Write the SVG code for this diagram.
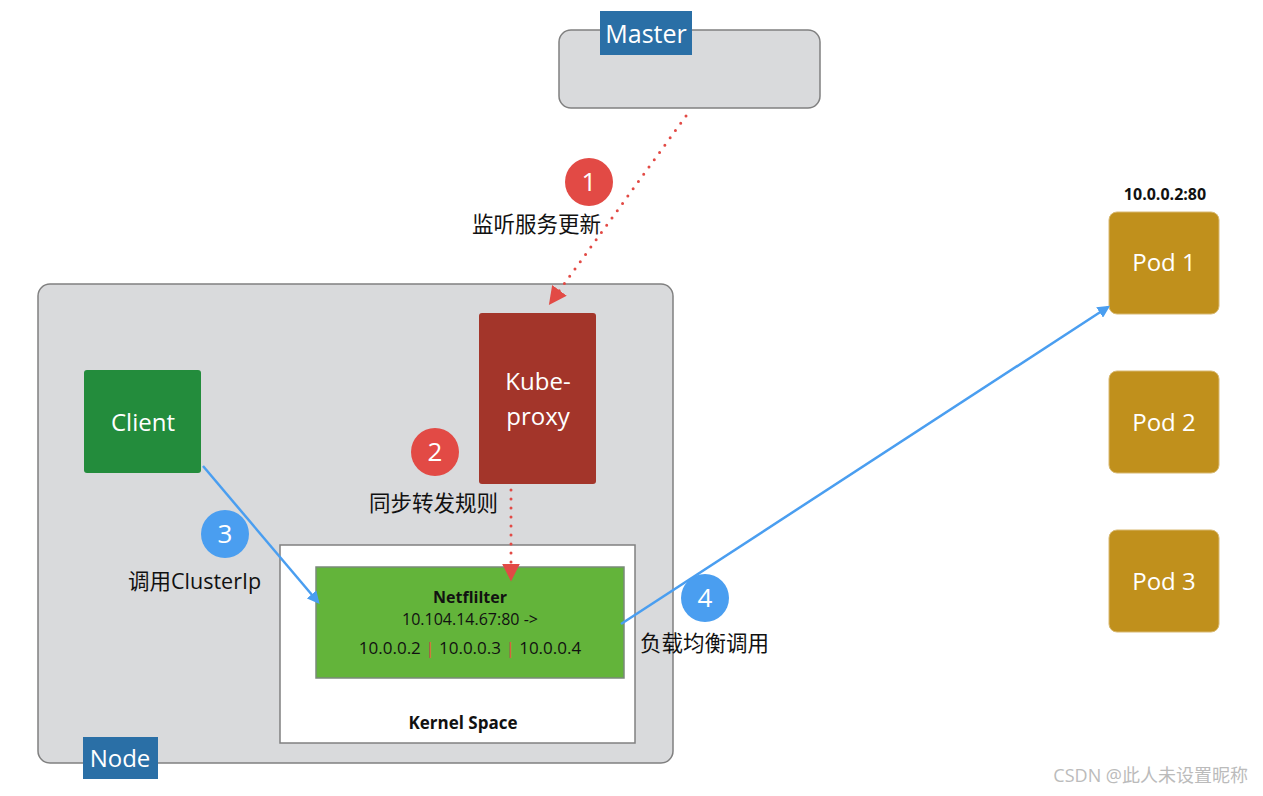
<svg xmlns="http://www.w3.org/2000/svg" width="1263" height="796" viewBox="0 0 1263 796">
<style>
text{font-family:"Open Sans","Noto Sans","Noto Sans CJK SC",sans-serif}
.lbl{font-size:21.5px;fill:#111}
.badge{font-size:26px;fill:#fff;text-anchor:middle}
.pod{fill:#c0901c;stroke:#d8b870;stroke-width:1}
.podt{font-size:24px;fill:#fff;text-anchor:middle}
.red{stroke:#e24a45;stroke-width:3;stroke-dasharray:0 9;stroke-linecap:round;fill:none}
.blue{stroke:#4a9ef0;stroke-width:2.5;fill:none}
</style>
<defs>
<marker id="ar" viewBox="0 0 10 10" refX="8" refY="5" markerWidth="6" markerHeight="6" orient="auto"><path d="M0,0L10,5L0,10z" fill="#e24a45"/></marker>
<marker id="ab" viewBox="0 0 10 10" refX="8" refY="5" markerWidth="5" markerHeight="5" orient="auto"><path d="M0,0L10,5L0,10z" fill="#4a9ef0"/></marker>
</defs>
<rect width="1263" height="796" fill="#fff"/>
<g id="master"><rect x="559" y="30" width="261" height="78" rx="12" fill="#d9dadc" stroke="#808080" stroke-width="1.5"/>
<rect x="600" y="11" width="92" height="44" fill="#2a6fa6"/><text x="646" y="43" font-size="25" fill="#fff" text-anchor="middle">Master</text></g>
<g id="node"><rect x="38" y="284" width="635" height="479" rx="12" fill="#d9dadc" stroke="#808080" stroke-width="1.5"/>
<rect x="83" y="737" width="75" height="42" fill="#2a6fa6"/><text x="120" y="767" font-size="24" fill="#fff" text-anchor="middle">Node</text></g>
<g id="kernel"><rect x="280" y="545" width="355" height="198" fill="#fff" stroke="#808080" stroke-width="1.5"/>
<text x="463" y="729" font-size="17" font-weight="bold" text-anchor="middle" fill="#111">Kernel Space</text></g>
<g id="netfilter"><rect x="316" y="567" width="308" height="111" fill="#63b43a" stroke="#7a8a7a" stroke-width="1.5"/>
<text x="470" y="603" font-size="16" font-weight="bold" text-anchor="middle" fill="#111">Netflilter</text>
<text x="470" y="625" font-size="16" text-anchor="middle" fill="#111">10.104.14.67:80 -&gt;</text>
<text x="470" y="654" font-size="17" text-anchor="middle" fill="#111">10.0.0.2 <tspan fill="#e24a45">|</tspan> 10.0.0.3 <tspan fill="#e24a45">|</tspan> 10.0.0.4</text></g>
<g id="client"><rect x="84" y="370" width="117" height="103" rx="3" fill="#238c3c"/><text x="143" y="431" font-size="24" fill="#fff" text-anchor="middle">Client</text></g>
<g id="kubeproxy"><rect x="479" y="313" width="117" height="171" rx="3" fill="#a3352a"/><text x="538" y="390" font-size="24" fill="#fff" text-anchor="middle">Kube-</text><text x="538" y="425" font-size="24" fill="#fff" text-anchor="middle">proxy</text></g>
<g id="pod1"><rect class="pod" x="1109" y="212" width="110" height="102" rx="8"/><text class="podt" x="1164" y="271">Pod 1</text></g>
<g id="pod2"><rect class="pod" x="1109" y="371" width="110" height="102" rx="8"/><text class="podt" x="1164" y="431">Pod 2</text></g>
<g id="pod3"><rect class="pod" x="1109" y="530" width="110" height="102" rx="8"/><text class="podt" x="1164" y="590">Pod 3</text></g>
<text x="1165" y="200" font-size="16" font-weight="bold" text-anchor="middle" fill="#111">10.0.0.2:80</text>
<g id="connectors">
<path class="red" d="M686,116L551,302" marker-end="url(#ar)"/>
<path class="red" d="M511,490L511,578" marker-end="url(#ar)"/>
<path class="blue" d="M203,466L318,602" marker-end="url(#ab)"/>
<path class="blue" d="M621,624L1108,307" marker-end="url(#ab)"/>
</g>
<g id="labels">
<circle cx="589" cy="182" r="24" fill="#e24a45"/><text class="badge" x="589" y="191">1</text>
<text class="lbl" x="472" y="232">监听服务更新</text>
<circle cx="435" cy="452" r="24" fill="#e24a45"/><text class="badge" x="435" y="461">2</text>
<text class="lbl" x="369" y="511">同步转发规则</text>
<circle cx="225" cy="534" r="24" fill="#4a9ef0"/><text class="badge" x="225" y="543">3</text>
<text class="lbl" x="128" y="589">调用ClusterIp</text>
<circle cx="705" cy="598" r="24" fill="#4a9ef0"/><text class="badge" x="705" y="607">4</text>
<text class="lbl" x="640" y="651">负载均衡调用</text>
</g>
<text x="1248" y="782" font-size="18" fill="#bbb" text-anchor="end">CSDN @此人未设置昵称</text>
</svg>
